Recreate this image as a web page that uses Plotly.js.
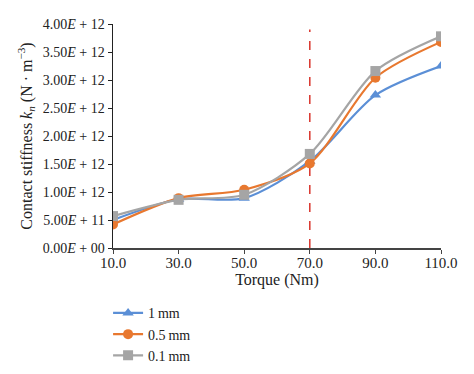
<!DOCTYPE html>
<html>
<head>
<meta charset="utf-8">
<script src="https://cdn.plot.ly/plotly-3.0.1.min.js"></script>
<style>html,body{margin:0;padding:0;background:#fff;}#chart{width:474px;height:374px;}</style>
</head>
<body>
<div id="chart"></div>
<script>
const torque = [10, 30, 50, 70, 90, 110];
const s1mm = [0.50e12, 0.87e12, 0.89e12, 1.55e12, 2.73e12, 3.25e12];
const s05mm = [0.42e12, 0.89e12, 1.04e12, 1.51e12, 3.04e12, 3.68e12];
const s01mm = [0.57e12, 0.86e12, 0.95e12, 1.68e12, 3.16e12, 3.78e12];
const seriesNames = ["1\u2009mm", "0.5\u2009mm", "0.1\u2009mm"];
const yTickVals = [0, 0.5e12, 1.0e12, 1.5e12, 2.0e12, 2.5e12, 3.0e12, 3.5e12, 4.0e12];
const yTickText = ["0.00<i>E</i> + 00", "5.00<i>E</i> + 11", "1.00<i>E</i> + 12", "1.50<i>E</i> + 12", "2.00<i>E</i> + 12", "2.50<i>E</i> + 12", "3.00<i>E</i> + 12", "3.50<i>E</i> + 12", "4.00<i>E</i> + 12"];
const xTickText = ["10.0", "30.0", "50.0", "70.0", "90.0", "110.0"];
const markerLine = 70;
const markerLineTop = 3.9e12;

const font = "Liberation Serif, Times New Roman, serif";
const mk = (name, y, color, symbol, size) => ({
  x: torque, y: y, name: name, type: "scatter", mode: "lines+markers",
  line: {color: color, width: 2.2, shape: "spline", smoothing: 0.8},
  marker: {color: color, symbol: symbol, size: size}
});
const data = [
  mk(seriesNames[0], s1mm, "#5b8fd6", "triangle-up", 10),
  mk(seriesNames[1], s05mm, "#e8782f", "circle", 10),
  mk(seriesNames[2], s01mm, "#a5a5a5", "square", 10)
];
const layout = {
  width: 474, height: 374,
  margin: {l: 113, r: 33, t: 24, b: 126},
  paper_bgcolor: "#fff", plot_bgcolor: "#fff",
  font: {family: font, size: 13, color: "#222"},
  showlegend: true,
  legend: {x: -0.015, xanchor: "left", xref: "paper", y: 0.205, yref: "container", yanchor: "top", orientation: "v",
    font: {family: font, size: 14, color: "#222"}, tracegroupgap: 0, itemwidth: 30},
  xaxis: {range: [10, 110], tickvals: torque, ticktext: xTickText,
    showline: true, linecolor: "#444", linewidth: 1.5, ticks: "outside", ticklen: 4, tickcolor: "#444",
    ticklabelstandoff: -4,
    showgrid: false, zeroline: false, tickfont: {family: font, size: 15, color: "#222"},
    title: {text: "Torque (Nm)", font: {family: font, size: 16, color: "#222"}, standoff: 4}},
  yaxis: {range: [0, 4e12], tickvals: yTickVals, ticktext: yTickText,
    showline: true, linecolor: "#222", linewidth: 1.5, ticks: "outside", ticklen: 4, tickcolor: "#222",
    showgrid: false, zeroline: false, tickfont: {family: font, size: 14, color: "#222"},
    title: {text: "Contact stiffness <i>k<sub>n</sub></i> (N · m<sup>−3</sup>)", font: {family: font, size: 16, color: "#222"}, standoff: 6}},
  shapes: [{type: "line", xref: "x", yref: "y", x0: markerLine, x1: markerLine, y0: 0, y1: markerLineTop,
    line: {color: "#d9342b", width: 1.5, dash: "dash"}, layer: "below"}]
};
Plotly.newPlot("chart", data, layout, {displayModeBar: false, staticPlot: true});
</script>
</body>
</html>
